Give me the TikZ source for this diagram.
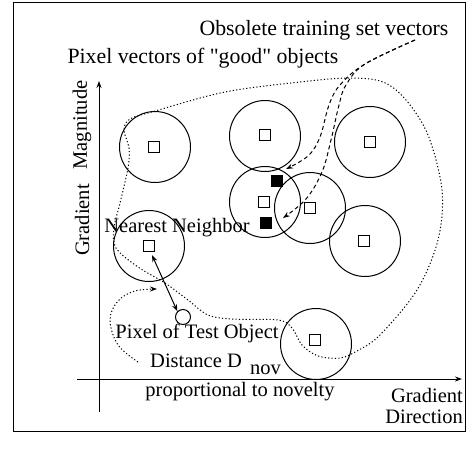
\documentclass[tikz,border=0pt]{standalone}
\usepackage{fontspec}
\setmainfont{Liberation Serif}
\newfontfamily\rawserif{Liberation Serif}
\usetikzlibrary{arrows.meta}
\begin{document}
\begin{tikzpicture}[x=1pt,y=-1pt,
  ring/.style={draw,circle,minimum size=71pt,inner sep=0pt,line width=1pt},
  sq/.style={draw,minimum size=11pt,inner sep=0pt,line width=0.9pt},
  bsq/.style={draw,fill=black,minimum size=11pt,inner sep=0pt},
  lbl/.style={font=\fontsize{20.5}{21}\selectfont,inner sep=0pt},
  biglbl/.style={font=\fontsize{21.8}{22}\selectfont,inner sep=0pt},
  tip/.style={-{Stealth[length=7pt,width=5pt]}},
  dots/.style={line width=1pt,dash pattern=on 1.2pt off 2.2pt},
  dsh/.style={line width=1pt,dash pattern=on 4pt off 3pt}]
\useasboundingbox (0,0) rectangle (474,458);
% frame
\node[draw,line width=0.8pt,minimum width=452pt,minimum height=429pt,inner sep=0pt] (frame) at (239,217) {};
% axes
\coordinate (vbot) at (99,412);
\coordinate (vtop) at (99,81);
\coordinate (hl) at (77,379);
\coordinate (hr) at (462,379);
\draw[line width=1pt,tip] (vbot) -- (vtop);
\draw[line width=1pt,tip] (hl) -- (hr);
\node[lbl,rotate=90] (ygrad) at (82,220) {Gradient};
\node[lbl,rotate=90] (ymag) at (82,125) {Magnitude};
\node[lbl,align=right,anchor=east] (xlab) at (463,406) {Gradient\\Direction};
% circles
\node[ring] (c1) at (155,147) {};
\node[ring] (c2) at (265,136) {};
\node[ring] (c3) at (370,142) {};
\node[ring] (c4) at (265,202) {};
\node[ring] (c5) at (310,208) {};
\node[ring] (c6) at (365,241) {};
\node[ring] (c7) at (149,246) {};
\node[ring] (c8) at (316,344) {};
% squares
\node[sq] (s1) at (154,147) {};
\node[sq] (s2) at (265,135) {};
\node[sq] (s3) at (370,142) {};
\node[sq] (s4) at (264,202) {};
\node[sq] (s5) at (310,208) {};
\node[sq] (s6) at (364,241) {};
\node[sq] (s7) at (149,246) {};
\node[sq] (s8) at (315,340) {};
\node[bsq] (b1) at (277,181) {};
\node[bsq] (b2) at (266,223) {};
% test object
\node[draw,circle,minimum size=15pt,inner sep=0pt,line width=1pt] (test) at (183,317) {};
\draw[line width=1pt,{Stealth[length=7pt,width=5pt]}-{Stealth[length=7pt,width=5pt]}] (s7) ++(3,9) coordinate (nnend) (nnend) -- (test.north west);
% good region boundary
\draw[dots] plot[smooth cycle,tension=0.55] coordinates {(225,92) (155,111) (130,119) (124,130) (129,148) (128,168) (120,203) (114,228) (116,248) (138,267) (165,283) (188,300) (208,315) (232,319) (278,320) (292,328) (302,345) (318,356) (340,358) (357,351) (380,335) (417,290) (438,240) (442,190) (428,135) (406,100) (383,82) (350,78) (300,82)};
% dotted distance arrow
\coordinate (dstart) at (138,362);
\coordinate (dend) at (157,289);
\draw[dots,tip] plot[smooth,tension=0.6] coordinates {(dstart) (118,345) (110,320) (118,301) (135,291) (dend)};
% obsolete arrows
\coordinate (obs0) at (415,40);
\coordinate (tipA) at (286,169);
\coordinate (tipB) at (283,218);
\draw[dsh,tip] plot[smooth,tension=0.6] coordinates {(obs0) (365,64) (340,85) (329,105) (320,137) (308,156) (tipA)};
\draw[dsh,tip] plot[smooth,tension=0.6] coordinates {(obs0) (365,64) (346,85) (339,105) (331,140) (322,172) (306,199) (tipB)};
% labels
\node[biglbl] (obs) at (324,30) {Obsolete training set vectors};
\node[biglbl] (good) at (203,58) {Pixel vectors of {\rawserif"}good{\rawserif"} objects};
\node[lbl] (nn) at (177,228) {Nearest Neighbor};
\node[lbl] (pto) at (197,333) {Pixel of Test Object};
\node[lbl,anchor=west] (dist) at (150,364) {Distance D\hspace{0.4em}\raisebox{-7pt}{nov}};
\node[lbl] (prop) at (240,392) {proportional to novelty};
\end{tikzpicture}
\end{document}
